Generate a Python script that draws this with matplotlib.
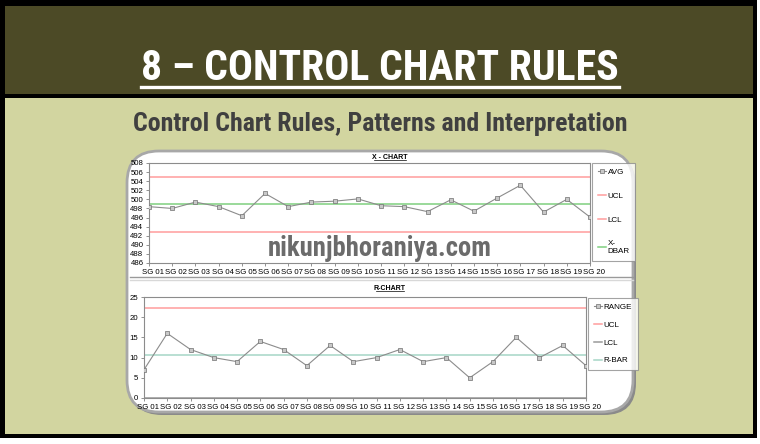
import numpy as np
import matplotlib
matplotlib.use("Agg")
import matplotlib.pyplot as plt
from matplotlib import font_manager
from matplotlib.patches import Rectangle, FancyBboxPatch
from matplotlib.lines import Line2D
from matplotlib.transforms import Affine2D, ScaledTranslation

# data
groups = ["SG %02d" % i for i in range(1, 21)]
avg = [498.4, 498.0, 499.4, 498.4, 496.4, 501.3, 498.4, 499.4, 499.6, 500.1,
       498.6, 498.4, 497.3, 499.9, 497.4, 500.3, 503.1, 497.2, 500.0, 496.1]
x_ucl = 505.0
x_lcl = 492.8
x_dbar = 498.9

rng = [7, 16, 12, 10, 9, 14, 12, 8, 13, 9, 10, 12, 9, 10, 5, 9, 15, 10, 13, 8]
r_ucl = 22.3
r_lcl = 0.0
r_bar = 10.55

W, H = 760, 444
fig = plt.figure(figsize=(W / 100, H / 100), dpi=100, facecolor="white")
# pixel coords, origin top-left
px = Affine2D().scale(1 / 100, -1 / 100).translate(0, H / 100) + fig.dpi_scale_trans

names = {f.name for f in font_manager.fontManager.ttflist}
cond = "DejaVu Sans"
for n in ["Roboto Condensed", "Liberation Sans Narrow", "Open Sans Condensed", "DejaVu Sans"]:
    if n in names:
        cond = n
        break
small = "Liberation Sans"


def rect(x0, y0, x1, y1, color, z=0):
    fig.add_artist(Rectangle((x0, y0), x1 - x0, y1 - y0, transform=px,
                             facecolor=color, edgecolor="none", zorder=z))


rect(0, 0, 757, 438, "black")
rect(5, 6, 753, 94, "#4c4a26")
rect(5, 98, 753, 434, "#d2d5a0")

# white rounded panel
fig.add_artist(FancyBboxPatch((130, 154), 506, 261, boxstyle="round,pad=0,rounding_size=32",
                              transform=px, facecolor="#8a8a8a", edgecolor="none", zorder=1))
fig.add_artist(FancyBboxPatch((127, 151), 506, 261, boxstyle="round,pad=0,rounding_size=32",
                              transform=px, facecolor="white", edgecolor="#a8a8a8", lw=2, zorder=1))
fig.add_artist(Line2D([130, 633], [277, 277], transform=px, color="#9a9a9a", lw=1, zorder=2))
fig.add_artist(Line2D([130, 633], [280, 280], transform=px, color="#d8d8d8", lw=1, zorder=2))


def fit(t, width):
    r = fig.canvas.get_renderer()
    w = t.get_window_extent(r).width
    if w > width:
        t.set_fontsize(t.get_fontsize() * width / w)
    return t


title = fig.text(380, 80, "8 \u2013 CONTROL CHART RULES", transform=px, ha="center", va="baseline",
                 color="white", fontsize=37, fontweight="bold", family=cond, fontstretch="condensed", zorder=3)
fit(title, 478)
sub = fig.text(380, 131, "Control Chart Rules, Patterns and Interpretation", transform=px, ha="center",
               va="baseline", color="#404040", fontsize=20, fontweight="bold", family=cond,
               fontstretch="condensed", zorder=3)
fit(sub, 494)

fig.canvas.draw()
bb = title.get_window_extent(fig.canvas.get_renderer())
fig.add_artist(Line2D([bb.x0, bb.x1], [H - 87, H - 87], transform=None, color="white", lw=2.4, zorder=3))

idx = np.arange(len(groups))
shift = ScaledTranslation(4 / 100, 0, fig.dpi_scale_trans)


def style(ax, yt):
    ax.set_xlim(0, len(groups) - 1)
    ax.set_xticks(idx)
    ax.set_xticklabels(groups)
    ax.set_yticks(yt)
    ax.tick_params(labelsize=5.6, length=2.5, width=0.6, color="#808080", pad=1.5)
    for lab in ax.get_xticklabels():
        lab.set_transform(lab.get_transform() + shift)
    for lab in ax.get_xticklabels() + ax.get_yticklabels():
        lab.set_family(small)
    for s in ax.spines.values():
        s.set_color("#8c8c8c")
        s.set_linewidth(0.8)
    ax.set_facecolor("white")


# X chart
axx = fig.add_axes([149 / W, 1 - 263 / H, 441 / W, 100 / H], zorder=4)
axx.plot(idx, avg, color="#8c8c8c", lw=0.8, marker="s", ms=2.3, mfc="#c8c8c8", mec="#707070",
         mew=0.5, label="AVG", zorder=4)
axx.axhline(x_ucl, color="#ff9d9d", lw=1.1, label="UCL")
axx.axhline(x_lcl, color="#ff9d9d", lw=1.1, label="LCL")
axx.axhline(x_dbar, color="#7fcf7f", lw=1.1, label="X-\nDBAR")
axx.set_ylim(486, 508)
style(axx, np.arange(486, 509, 2))
lx = axx.legend(loc="upper left", bbox_to_anchor=(592 / W, 1 - 163 / H), bbox_transform=fig.transFigure,
                frameon=True, fancybox=False, edgecolor="#8c8c8c", handlelength=1.0,
                handletextpad=0.25, labelspacing=2.0, borderpad=0.7, borderaxespad=0,
                prop={"family": small, "size": 5.8})
lx.get_frame().set_linewidth(0.8)
fig.text(390, 159, "X - CHART", transform=px, ha="center", va="baseline", fontsize=5,
         fontweight="bold", family=small, zorder=5)
fig.add_artist(Line2D([374, 406], [160.5, 160.5], transform=px, color="black", lw=0.5, zorder=5))

# R chart
axr = fig.add_axes([144 / W, 1 - 398 / H, 442 / W, 101 / H], zorder=4)
axr.plot(idx, rng, color="#8c8c8c", lw=0.8, marker="s", ms=2.3, mfc="#c8c8c8", mec="#707070",
         mew=0.5, label="RANGE", zorder=4)
axr.axhline(r_ucl, color="#ff9d9d", lw=1.1, label="UCL")
axr.axhline(r_lcl, color="#9a9a9a", lw=1.1, label="LCL")
axr.axhline(r_bar, color="#a6d6c6", lw=1.1, label="R-BAR")
axr.set_ylim(0, 25)
style(axr, np.arange(0, 26, 5))
lr = axr.legend(loc="upper left", bbox_to_anchor=(588 / W, 1 - 298 / H), bbox_transform=fig.transFigure,
                frameon=True, fancybox=False, edgecolor="#8c8c8c", handlelength=1.0,
                handletextpad=0.25, labelspacing=1.25, borderpad=0.7, borderaxespad=0,
                prop={"family": small, "size": 5.8})
lr.get_frame().set_linewidth(0.8)
fig.text(390, 290, "R-CHART", transform=px, ha="center", va="baseline", fontsize=5,
         fontweight="bold", family=small, zorder=5)
fig.add_artist(Line2D([376, 404], [291.5, 291.5], transform=px, color="black", lw=0.5, zorder=5))

# watermark
wm = fig.text(380, 256, "nikunjbhoraniya.com", transform=px, ha="center", va="baseline",
              color="#6b6b6b", fontsize=25, fontweight="bold", family=cond, fontstretch="condensed", zorder=6)
fit(wm, 224)

fig.savefig("out.png", dpi=100, facecolor=fig.get_facecolor())
